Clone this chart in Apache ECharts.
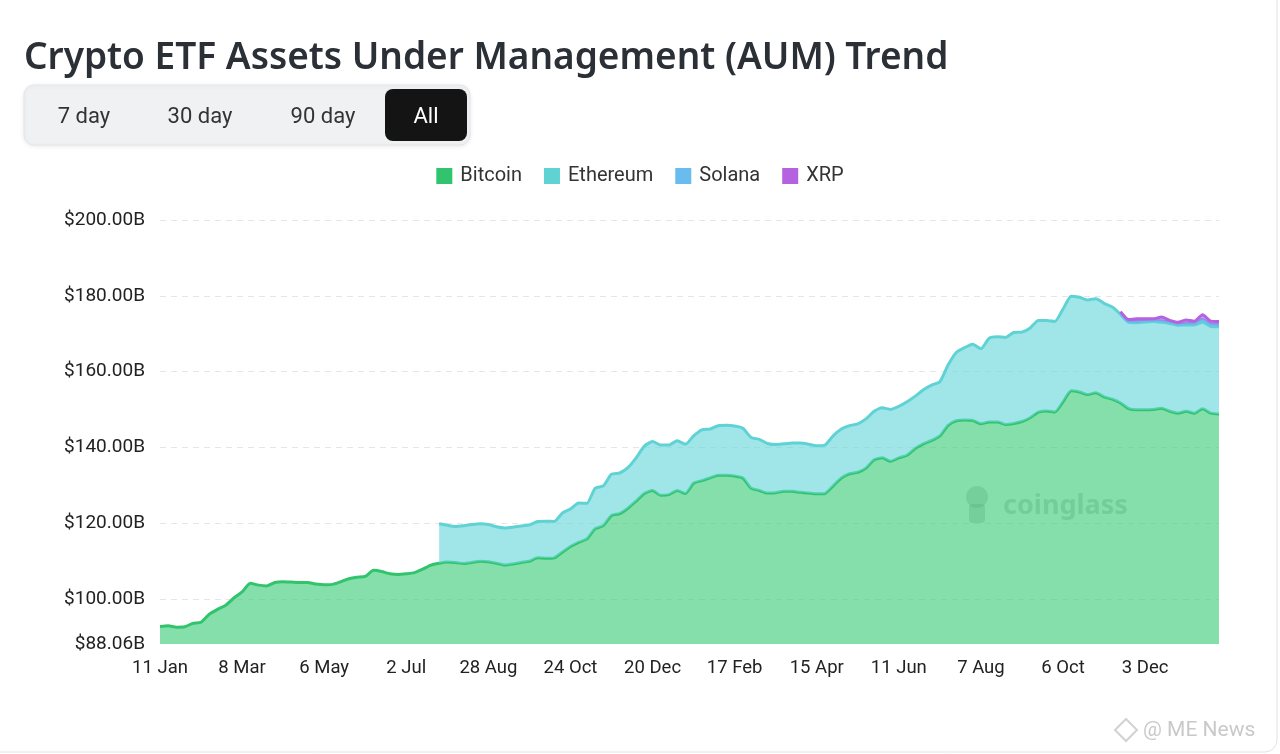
<!DOCTYPE html>
<html>
<head>
<meta charset="utf-8">
<script src="https://cdn.jsdelivr.net/npm/echarts@6/dist/echarts.min.js"></script>
<style>
html,body{margin:0;padding:0;background:#fff;}
#chart{width:1280px;height:754px;}
</style>
</head>
<body>
<div id="chart"></div>
<script>
const categories = [
'2024-01-11','2024-01-17','2024-01-23','2024-01-29','2024-02-02','2024-02-08','2024-02-14','2024-02-20','2024-02-26','2024-03-01',
'2024-03-08','2024-03-14','2024-03-20','2024-03-26','2024-04-01','2024-04-05','2024-04-11','2024-04-17','2024-04-23','2024-04-29',
'2024-05-06','2024-05-10','2024-05-16','2024-05-22','2024-05-29','2024-06-04','2024-06-10','2024-06-14','2024-06-20','2024-06-26',
'2024-07-02','2024-07-08','2024-07-12','2024-07-18','2024-07-24','2024-07-30','2024-08-05','2024-08-09','2024-08-15','2024-08-21',
'2024-08-28','2024-09-03','2024-09-09','2024-09-13','2024-09-19','2024-09-25','2024-10-01','2024-10-07','2024-10-11','2024-10-17',
'2024-10-24','2024-10-30','2024-11-05','2024-11-11','2024-11-15','2024-11-21','2024-11-27','2024-12-03','2024-12-09','2024-12-13',
'2024-12-20','2024-12-27','2025-01-02','2025-01-08','2025-01-14','2025-01-20','2025-01-24','2025-01-30','2025-02-05','2025-02-11',
'2025-02-17','2025-02-21','2025-02-27','2025-03-05','2025-03-11','2025-03-17','2025-03-21','2025-03-27','2025-04-02','2025-04-08',
'2025-04-15','2025-04-21','2025-04-25','2025-05-01','2025-05-07','2025-05-13','2025-05-19','2025-05-23','2025-05-29','2025-06-05',
'2025-06-11','2025-06-17','2025-06-23','2025-06-27','2025-07-03','2025-07-09','2025-07-15','2025-07-21','2025-07-25','2025-07-31',
'2025-08-07','2025-08-13','2025-08-19','2025-08-25','2025-08-29','2025-09-04','2025-09-10','2025-09-16','2025-09-22','2025-09-29',
'2025-10-06','2025-10-10','2025-10-16','2025-10-22','2025-10-28','2025-11-03','2025-11-07','2025-11-13','2025-11-19','2025-11-25',
'2025-12-03','2025-12-09','2025-12-15','2025-12-19','2025-12-26','2026-01-02','2026-01-07','2026-01-13','2026-01-19','2026-01-23'
];

const xTickLabels = ['11 Jan','8 Mar','6 May','2 Jul','28 Aug','24 Oct','20 Dec','17 Feb','15 Apr','11 Jun','7 Aug','6 Oct','3 Dec'];
const yTickValues = [88.06, 100, 120, 140, 160, 180, 200];
const yGridValues = [100, 120, 140, 160, 180, 200];

const bitcoin = [
92.7, 92.9, 92.5, 92.6, 93.5, 93.8, 95.9, 97.2, 98.3, 100.2,
101.8, 104.1, 103.6, 103.4, 104.3, 104.5, 104.4, 104.3, 104.3, 103.9,
103.7, 103.8, 104.5, 105.3, 105.7, 105.9, 107.5, 107.2, 106.6, 106.4,
106.6, 106.9, 107.8, 108.9, 109.4, 109.7, 109.6, 109.3, 109.6, 109.9,
109.8, 109.4, 108.9, 109.2, 109.6, 109.9, 110.8, 110.7, 110.8, 112.3,
113.8, 114.9, 115.8, 118.5, 119.3, 122.0, 122.5, 123.9, 125.8, 127.8,
128.6, 127.3, 127.5, 128.6, 127.8, 130.5, 131.2, 131.9, 132.6, 132.6,
132.4, 131.9, 129.2, 128.6, 127.9, 128.0, 128.4, 128.4, 128.1, 127.9,
127.7, 127.8, 129.8, 131.9, 133.0, 133.4, 134.5, 136.7, 137.2, 136.3,
137.2, 137.9, 139.7, 140.9, 141.8, 143.0, 145.8, 147.0, 147.2, 147.1,
146.2, 146.7, 146.7, 146.0, 146.3, 146.8, 147.8, 149.3, 149.6, 149.3,
152.0, 154.9, 154.6, 153.9, 154.4, 153.3, 152.7, 151.7, 150.2, 149.9,
149.9, 150.0, 150.3, 149.5, 149.0, 149.5, 149.0, 150.2, 149.0, 148.8
];

const ethereum = [
null, null, null, null, null, null, null, null, null, null,
null, null, null, null, null, null, null, null, null, null,
null, null, null, null, null, null, null, null, null, null,
null, null, null, null, 10.4, 9.7, 9.5, 10.0, 10.0, 9.9,
9.8, 9.6, 9.8, 9.7, 9.6, 9.6, 9.6, 9.8, 9.6, 10.3,
9.9, 10.4, 9.4, 10.7, 10.5, 10.9, 10.7, 10.7, 11.4, 12.5,
12.9, 13.3, 13.1, 13.1, 13.0, 12.5, 13.4, 12.9, 13.1, 13.2,
13.2, 13.1, 13.4, 13.5, 13.1, 12.7, 12.5, 12.7, 13.0, 12.9,
12.7, 12.8, 13.2, 12.9, 12.7, 12.8, 13.0, 12.8, 13.2, 13.7,
13.6, 14.1, 13.8, 14.3, 14.6, 14.3, 15.9, 18.0, 19.1, 20.1,
19.8, 22.1, 22.5, 23.0, 24.0, 23.6, 23.7, 24.2, 23.9, 23.9,
24.5, 25.0, 25.0, 25.0, 24.8, 24.7, 24.3, 23.4, 22.8, 23.0,
23.2, 23.2, 22.7, 23.2, 23.2, 22.8, 23.3, 22.8, 22.9, 23.0
];

const solana = [
null, null, null, null, null, null, null, null, null, null,
null, null, null, null, null, null, null, null, null, null,
null, null, null, null, null, null, null, null, null, null,
null, null, null, null, null, null, null, null, null, null,
null, null, null, null, null, null, null, null, null, null,
null, null, null, null, null, null, null, null, null, null,
null, null, null, null, null, null, null, null, null, null,
null, null, null, null, null, null, null, null, null, null,
null, null, null, null, null, null, null, null, null, null,
null, null, null, null, null, null, null, null, null, null,
null, null, null, null, null, null, null, null, null, null,
null, null, null, null, null, null, null, 0.2, 0.2, 0.3,
0.3, 0.3, 0.4, 0.3, 0.3, 0.4, 0.4, 0.8, 0.6, 0.6
];

const xrp = [
null, null, null, null, null, null, null, null, null, null,
null, null, null, null, null, null, null, null, null, null,
null, null, null, null, null, null, null, null, null, null,
null, null, null, null, null, null, null, null, null, null,
null, null, null, null, null, null, null, null, null, null,
null, null, null, null, null, null, null, null, null, null,
null, null, null, null, null, null, null, null, null, null,
null, null, null, null, null, null, null, null, null, null,
null, null, null, null, null, null, null, null, null, null,
null, null, null, null, null, null, null, null, null, null,
null, null, null, null, null, null, null, null, null, null,
null, null, null, null, null, null, null, 0.5, 0.5, 0.7,
0.5, 0.4, 1.0, 0.5, 0.5, 0.9, 0.6, 1.2, 0.8, 0.8
];

const seriesNames = ['Bitcoin', 'Ethereum', 'Solana', 'XRP'];
const buttonLabels = ['7 day', '30 day', '90 day', 'All'];

const chart = echarts.init(document.getElementById('chart'), null, {renderer: 'canvas'});
const FONT = 'Roboto, "Noto Sans", sans-serif';

function mkSeries(name, data, lineColor, areaColor, z) {
  return {
    name: name,
    type: 'line',
    stack: 'aum',
    data: data,
    symbol: 'none',
    showSymbol: false,
    smooth: 0.2,
    z: z,
    lineStyle: {color: lineColor, width: 3},
    itemStyle: {color: lineColor},
    areaStyle: {color: areaColor, opacity: 1},
    emphasis: {disabled: true}
  };
}

const option = {
  backgroundColor: '#ffffff',
  animation: false,
  textStyle: {fontFamily: FONT},
  legend: {
    top: 161,
    left: 'center',
    itemWidth: 16,
    itemHeight: 16,
    itemGap: 22,
    icon: 'rect',
    data: seriesNames,
    textStyle: {fontSize: 20, color: '#333', fontFamily: FONT, padding: [0, 0, 0, 3]}
  },
  grid: {left: 160, right: 61, top: 220, bottom: 110, containLabel: false},
  xAxis: {
    type: 'category',
    boundaryGap: false,
    data: categories,
    axisLine: {show: false},
    axisTick: {show: false},
    axisLabel: {
      interval: 9,
      margin: 15,
      fontSize: 18.5,
      color: '#222',
      fontFamily: FONT,
      formatter: function (v, idx) { return xTickLabels[Math.round(idx / 10)] || ''; }
    },
    splitLine: {show: false}
  },
  yAxis: {
    type: 'value',
    min: 88.06,
    max: 200,
    axisLine: {show: false},
    axisTick: {show: false, customValues: yGridValues},
    axisLabel: {
      customValues: yTickValues,
      margin: 15,
      fontSize: 19,
      color: '#222',
      fontFamily: FONT,
      formatter: function (v) { return '$' + Number(v).toFixed(2) + 'B'; }
    },
    splitLine: {show: true, lineStyle: {color: '#e6e6e6', type: [6, 5], width: 1}}
  },
  series: [
    mkSeries('Bitcoin', bitcoin, '#31c46d', 'rgba(62,205,122,0.63)', 2),
    mkSeries('Ethereum', ethereum, '#5fd2d4', 'rgba(104,215,218,0.63)', 3),
    mkSeries('Solana', solana, '#6bbcee', 'rgba(108,188,238,0.6)', 4),
    mkSeries('XRP', xrp, '#b462df', 'rgba(180,98,223,0.55)', 5)
  ],
  graphic: [
    {type: 'rect', silent: true, z: -10, shape: {x: -20, y: -20, width: 1297, height: 772, r: 12},
      style: {fill: 'none', stroke: '#e2e2e2', lineWidth: 1}},
    {type: 'text', left: 24, top: 40, style: {text: 'Crypto ETF Assets Under Management (AUM) Trend',
      font: '600 37px "Noto Sans", sans-serif', fill: '#2b2f36'}},
    {type: 'rect', shape: {x: 24, y: 85, width: 446, height: 60, r: 10},
      style: {fill: '#eff1f3', stroke: '#e4e6e9', lineWidth: 1, shadowBlur: 4, shadowColor: 'rgba(0,0,0,0.08)', shadowOffsetY: 1}},
    {type: 'rect', shape: {x: 385, y: 89, width: 82, height: 52, r: 8}, style: {fill: '#141414'}},
    {type: 'text', x: 84, y: 117, style: {text: buttonLabels[0], font: '22px Roboto, sans-serif', fill: '#333', align: 'center', verticalAlign: 'middle'}},
    {type: 'text', x: 200, y: 117, style: {text: buttonLabels[1], font: '22px Roboto, sans-serif', fill: '#333', align: 'center', verticalAlign: 'middle'}},
    {type: 'text', x: 323, y: 117, style: {text: buttonLabels[2], font: '22px Roboto, sans-serif', fill: '#333', align: 'center', verticalAlign: 'middle'}},
    {type: 'text', x: 426, y: 117, style: {text: buttonLabels[3], font: '22px Roboto, sans-serif', fill: '#ffffff', align: 'center', verticalAlign: 'middle'}},
    {type: 'group', z: 10, children: [
      {type: 'circle', shape: {cx: 977, cy: 497, r: 11}, style: {fill: 'rgba(130,130,130,0.35)'}},
      {type: 'rect', shape: {x: 969, y: 504, width: 16, height: 19, r: 4}, style: {fill: 'rgba(130,130,130,0.35)'}},
      {type: 'text', x: 1003, y: 506, style: {text: 'coinglass', font: 'bold 27px "Noto Sans", sans-serif', fill: 'rgba(130,130,130,0.38)', verticalAlign: 'middle'}}
    ]},
    {type: 'group', children: [
      {type: 'polygon', shape: {points: [[1126, 719], [1137, 730], [1126, 741], [1115, 730]]}, style: {fill: 'none', stroke: '#d2d2d2', lineWidth: 2}},
      {type: 'text', x: 1143, y: 731, style: {text: '@ ME News', font: '21px Roboto, sans-serif', fill: '#c9c9c9', verticalAlign: 'middle'}}
    ]}
  ]
};
chart.setOption(option);
</script>
</body>
</html>
